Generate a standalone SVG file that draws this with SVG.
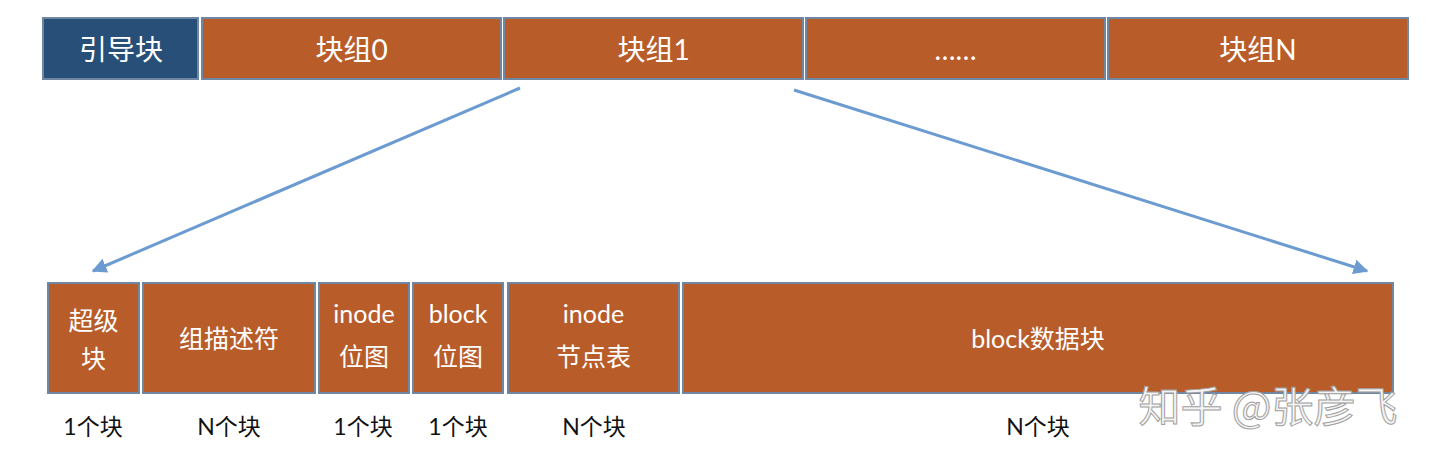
<svg xmlns="http://www.w3.org/2000/svg" width="1440" height="463" viewBox="0 0 1440 463">
<style>
.box{fill:#b85d2a;stroke:#6f87a3;stroke-width:2}
.boot{fill:#284f78;stroke:#6f87a3;stroke-width:2}
.t{font-family:Lato,"Noto Sans CJK SC",sans-serif;fill:#fff;text-anchor:middle}
.top{font-size:28px}
.bot{font-size:25px}
.lab{font-family:Lato,"Noto Sans CJK SC",sans-serif;font-size:23px;fill:#111;text-anchor:middle}
.wm{font-family:"Noto Sans CJK SC",sans-serif;font-size:42px;fill:#f4f4f4;stroke:#a0a0a0;stroke-width:1;text-anchor:middle}
.conn{stroke:#6b9bd0;stroke-width:3;fill:none}
</style>
<defs>
<marker id="ah" viewBox="0 0 10 10" refX="9" refY="5" markerWidth="5" markerHeight="5" orient="auto" markerUnits="strokeWidth">
<path d="M0,0 L10,5 L0,10 z" fill="#6b9bd0"/>
</marker>
</defs>
<rect width="1440" height="463" fill="#fff"/>
<g id="boot"><rect class="boot" x="43" y="18" width="155" height="61"/><text class="t top" x="121" y="60">引导块</text></g>
<g id="bg0"><rect class="box" x="202" y="18" width="299" height="61"/><text class="t top" x="351.5" y="60">块组0</text></g>
<g id="bg1"><rect class="box" x="504" y="18" width="299" height="61"/><text class="t top" x="653.5" y="60">块组1</text></g>
<g id="bgdots"><rect class="box" x="806" y="18" width="299" height="61"/><text class="t top" x="955.5" y="60">……</text></g>
<g id="bgN"><rect class="box" x="1108" y="18" width="300" height="61"/><text class="t top" x="1258" y="60">块组N</text></g>

<g id="super"><rect class="box" x="48" y="283" width="91" height="110"/><text class="t bot" x="93.5" y="330">超级</text><text class="t bot" x="93.5" y="368">块</text></g>
<g id="gdt"><rect class="box" x="143" y="283" width="172" height="110"/><text class="t bot" x="229" y="348">组描述符</text></g>
<g id="ibmp"><rect class="box" x="319" y="283" width="90" height="110"/><text class="t bot" x="364" y="323">inode</text><text class="t bot" x="364" y="366">位图</text></g>
<g id="bbmp"><rect class="box" x="413" y="283" width="90" height="110"/><text class="t bot" x="458" y="323">block</text><text class="t bot" x="458" y="366">位图</text></g>
<g id="itable"><rect class="box" x="508" y="283" width="171" height="110"/><text class="t bot" x="593.5" y="323">inode</text><text class="t bot" x="593.5" y="366">节点表</text></g>
<g id="data"><rect class="box" x="683" y="283" width="710" height="110"/><text class="t bot" x="1038" y="348">block数据块</text></g>

<g id="labels">
<text class="lab" x="93" y="435">1个块</text>
<text class="lab" x="229" y="435">N个块</text>
<text class="lab" x="363" y="435">1个块</text>
<text class="lab" x="458" y="435">1个块</text>
<text class="lab" x="594" y="435">N个块</text>
<text class="lab" x="1038" y="435">N个块</text>
</g>

<g id="connectors">
<line class="conn" x1="520" y1="88" x2="93" y2="271" marker-end="url(#ah)"/>
<line class="conn" x1="794" y1="90" x2="1367" y2="271" marker-end="url(#ah)"/>
</g>

<g id="watermark"><text class="wm" x="1268" y="422">知乎 @张彦飞</text></g>
</svg>
